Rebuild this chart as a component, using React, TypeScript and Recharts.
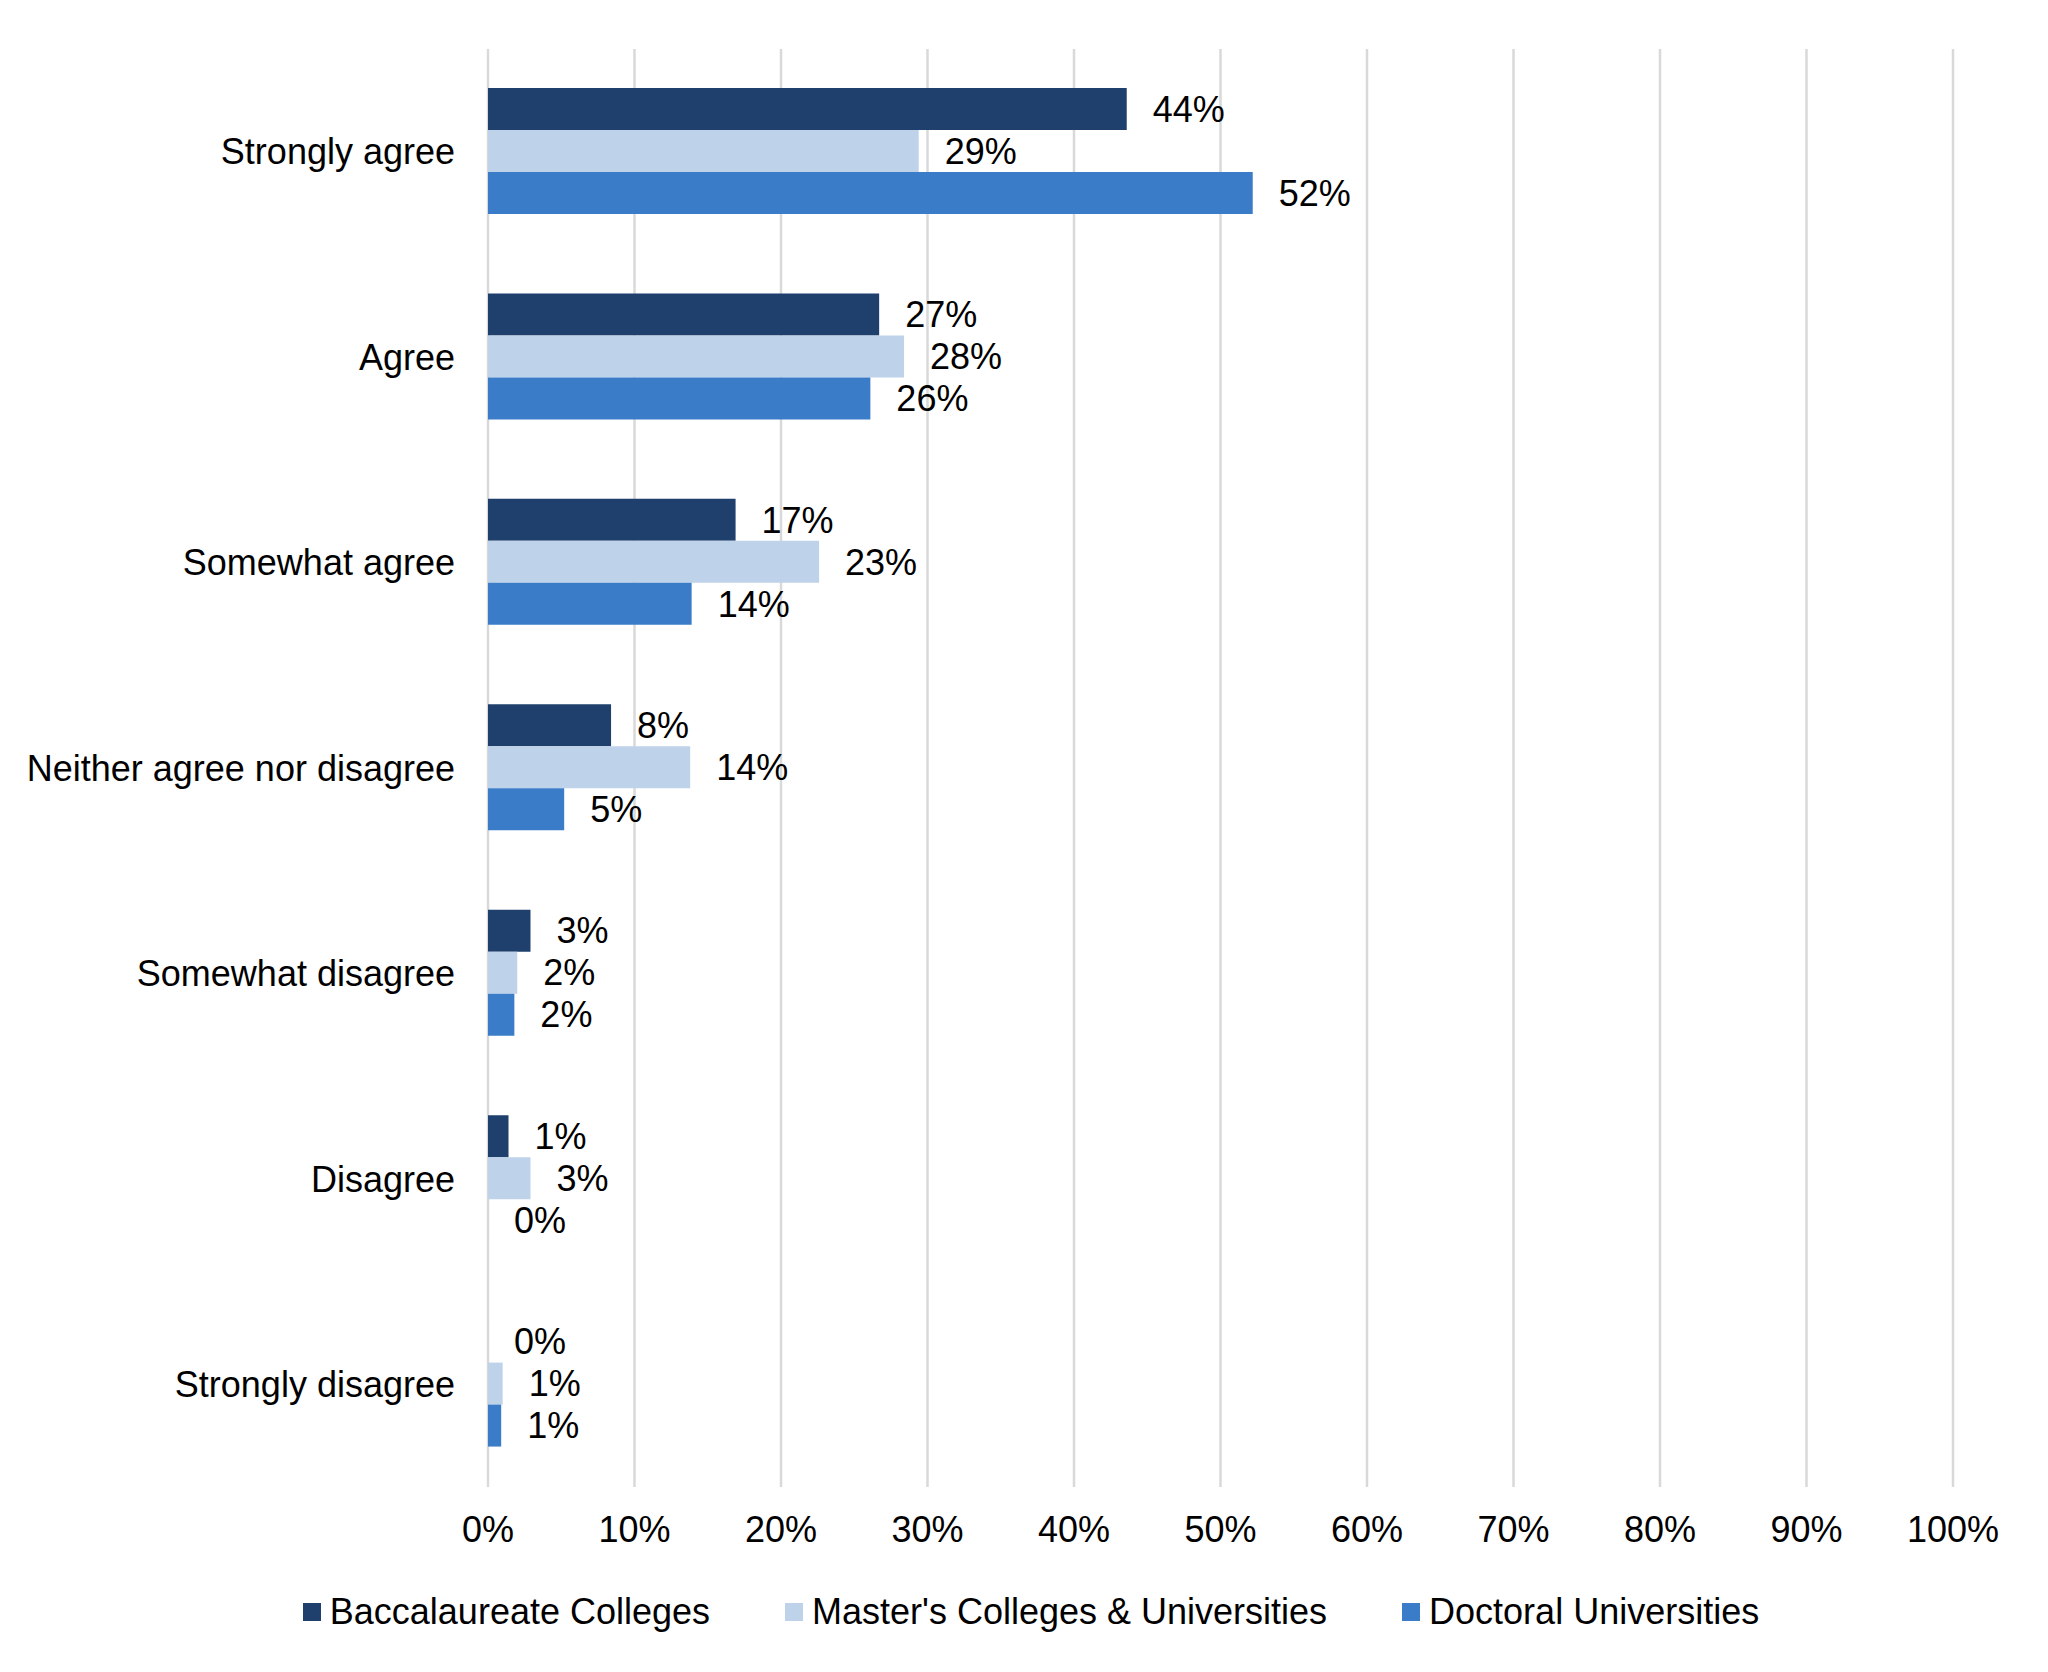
import React from 'react';
import { BarChart, Bar, XAxis, YAxis, CartesianGrid, Legend, LabelList } from 'recharts';

const categories = [
  'Strongly agree',
  'Agree',
  'Somewhat agree',
  'Neither agree nor disagree',
  'Somewhat disagree',
  'Disagree',
  'Strongly disagree',
];
const baccalaureate = [43.6, 26.7, 16.9, 8.4, 2.9, 1.4, 0];
const masters = [29.4, 28.4, 22.6, 13.8, 2.0, 2.9, 1.0];
const doctoral = [52.2, 26.1, 13.9, 5.2, 1.8, 0, 0.9];
const xTicks = [0, 10, 20, 30, 40, 50, 60, 70, 80, 90, 100];

const seriesNames = ["Baccalaureate Colleges", "Master's Colleges & Universities", 'Doctoral Universities'];
const seriesKeys = ['bacc', 'masters', 'doctoral'];
const seriesColors = ['#1F3F6D', '#BED2EA', '#3A7CC8'];

const data = categories.map((c, i) => ({
  category: c,
  bacc: baccalaureate[i],
  masters: masters[i],
  doctoral: doctoral[i],
}));

const FONT = '"Liberation Sans", Arial, sans-serif';

const renderLegend = () => (
  <div
    style={{
      display: 'flex',
      justifyContent: 'center',
      alignItems: 'center',
      width: 2040,
      height: 40,
      paddingLeft: 6,
      boxSizing: 'border-box',
      fontFamily: FONT,
      fontSize: 36,
      color: '#000',
      whiteSpace: 'nowrap',
    }}
  >
    {seriesNames.map((n, i) => (
      <div key={n} style={{ display: 'flex', alignItems: 'center', marginLeft: i === 0 ? 0 : 75 }}>
        <div style={{ width: 18, height: 18, background: seriesColors[i], marginRight: 9 }} />
        <span style={{ lineHeight: '40px' }}>{n}</span>
      </div>
    ))}
  </div>
);

export default function App() {
  return (
    <div style={{ width: 2040, height: 1664, background: '#fff' }}>
      <BarChart
        width={2040}
        height={1664}
        data={data}
        layout="vertical"
        margin={{ top: 41, right: 95, left: 0, bottom: 40 }}
        barCategoryGap={39}
        barGap={0}
      >
        <CartesianGrid horizontal={false} stroke="#D9D9D9" strokeWidth={2.5} />
        <XAxis
          type="number"
          domain={[0, 100]}
          ticks={xTicks}
          tickFormatter={(v) => `${v}%`}
          axisLine={false}
          tickLine={false}
          tickSize={0}
          tickMargin={29}
          height={105}
          tick={{ fontSize: 36, fill: '#000', fontFamily: FONT }}
          interval={0}
        />
        <YAxis
          type="category"
          dataKey="category"
          width={480}
          axisLine={false}
          tickLine={false}
          tickSize={0}
          tickMargin={33}
          interval={0}
          tick={{ fontSize: 36, fill: '#000', fontFamily: FONT }}
        />
        <Legend verticalAlign="bottom" content={renderLegend} wrapperStyle={{ left: 0, width: 2040 }} />
        {seriesKeys.map((k, i) => (
          <Bar
            key={k}
            dataKey={k}
            name={seriesNames[i]}
            fill={seriesColors[i]}
            minPointSize={0.01}
            isAnimationActive={false}
          >
            <LabelList
              dataKey={k}
              position="right"
              offset={26}
              formatter={(v: any) => `${Math.round(Number(v))}%`}
              style={{ fontSize: 36, fill: '#000', fontFamily: FONT }}
            />
          </Bar>
        ))}
      </BarChart>
    </div>
  );
}
